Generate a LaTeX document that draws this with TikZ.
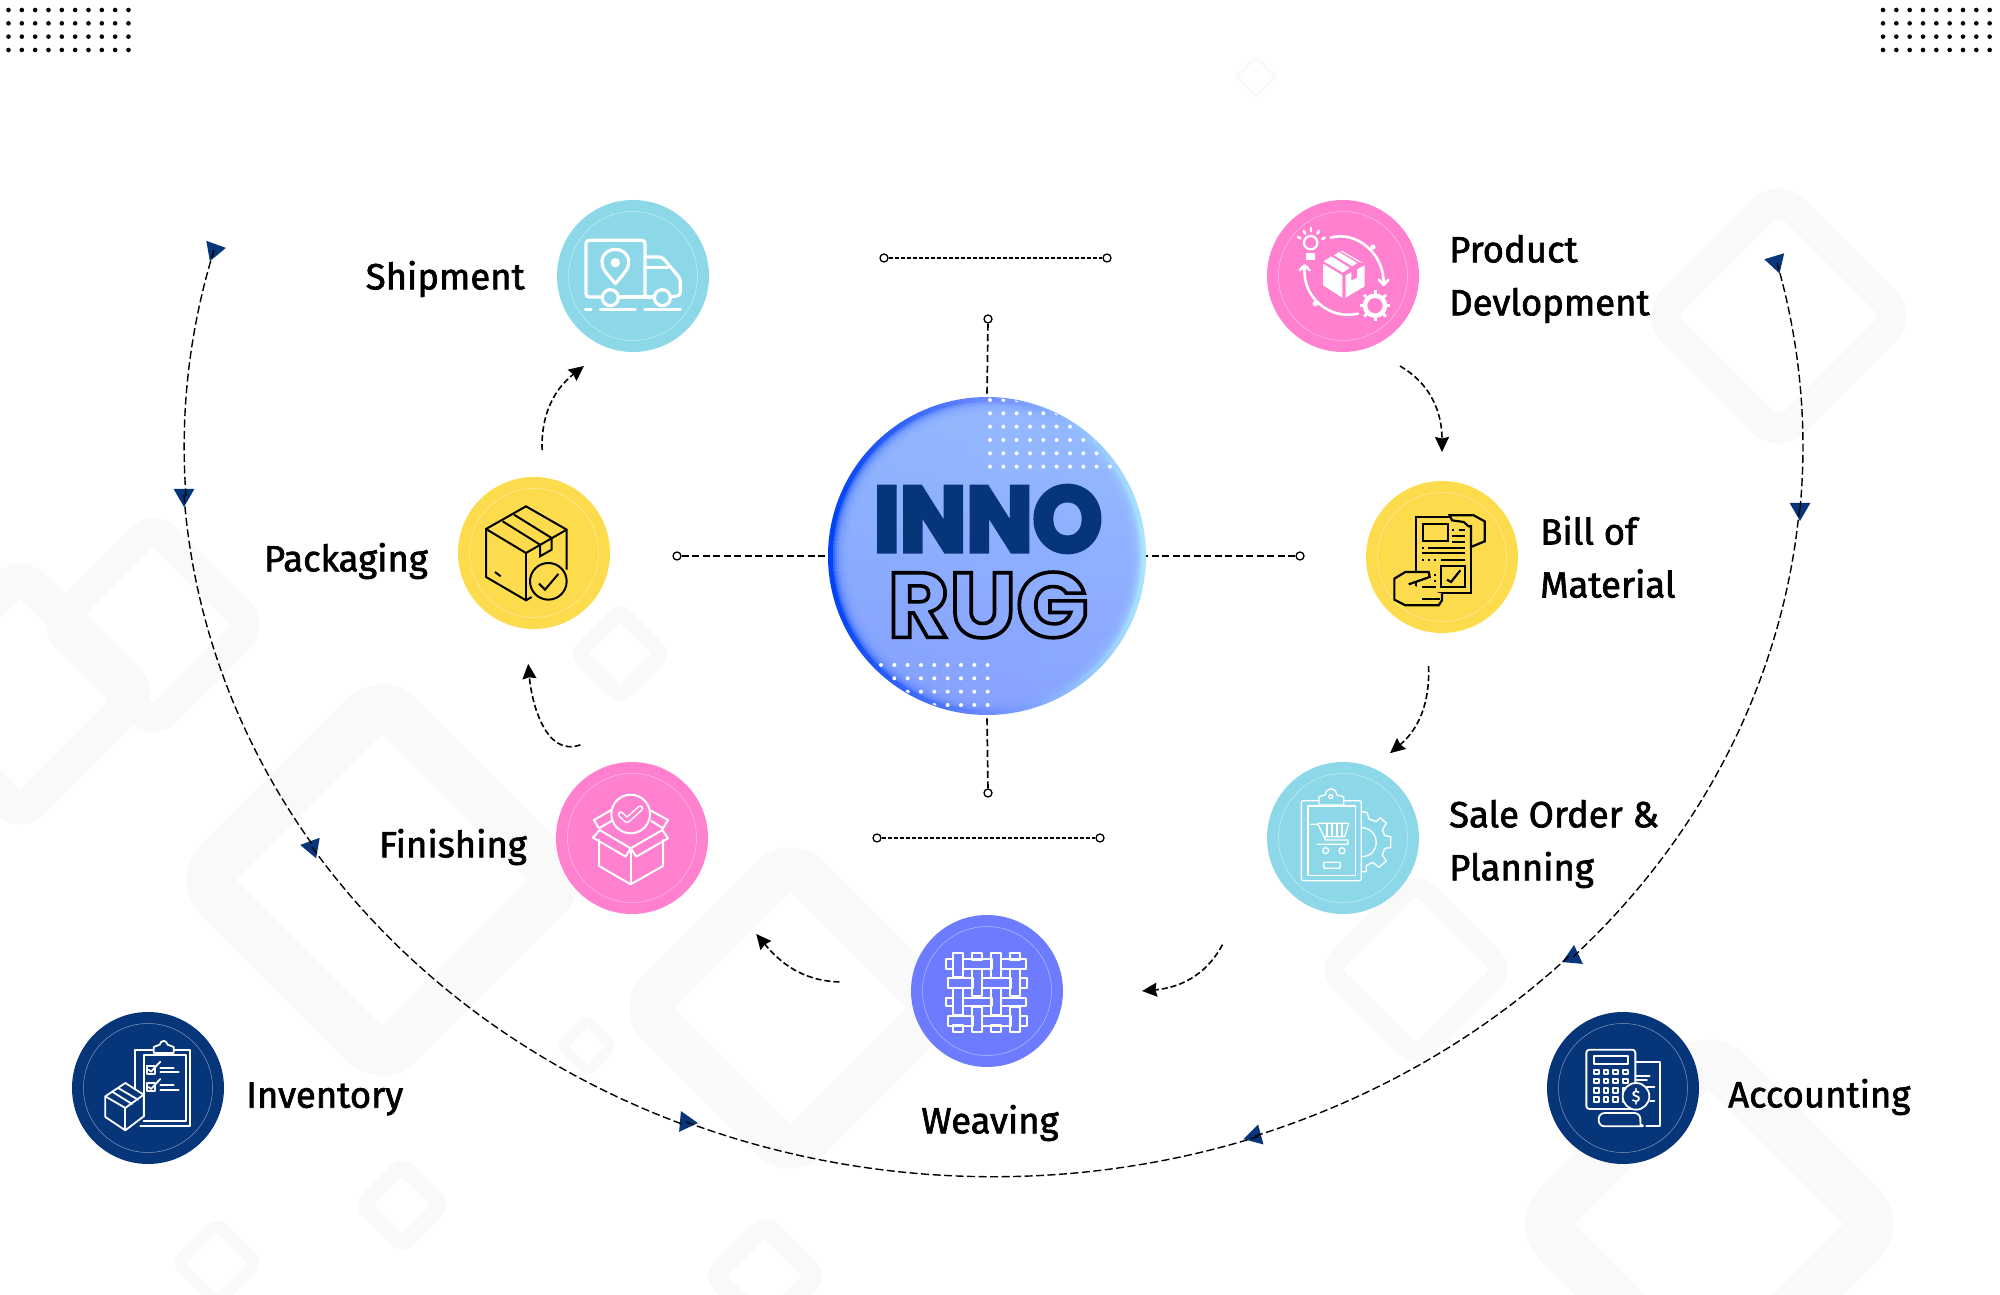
\documentclass[tikz,border=0pt]{standalone}
\usepackage{fontspec}
\usetikzlibrary{arrows.meta,shapes.geometric,calc}
\newfontfamily\labelfont{Fira Sans}[FakeBold=1.8]
\newfontfamily\hubfont{Poppins}
\newfontfamily\innofont{Poppins}[BoldFeatures={FakeBold=5}]
\definecolor{navy}{RGB}{6,53,122}
\definecolor{skyc}{RGB}{141,216,232}
\definecolor{pinkc}{RGB}{255,128,207}
\definecolor{yellowc}{RGB}{252,220,76}
\definecolor{violetc}{RGB}{109,124,255}
\definecolor{washc}{RGB}{249,249,250}
\definecolor{rimlow}{RGB}{0,65,245}
\definecolor{rimmid}{RGB}{110,140,255}
\definecolor{rimtop}{RGB}{170,228,255}
\definecolor{hubtop}{RGB}{150,187,255}
\definecolor{hublow}{RGB}{137,165,255}
\tikzset{
  stage/.style={circle,minimum size=152pt,inner sep=0pt,fill=#1},
  stagetext/.style={font=\labelfont\fontsize{36.5}{53}\selectfont,inner sep=0pt,text=black,align=left},
  ringline/.style={white,opacity=.5,line width=.5pt},
  crossline/.style={black,line width=1.7pt,dash pattern=on 7pt off 3.5pt},
  flatline/.style={black,line width=1.5pt,dash pattern=on 4pt off 2pt},
  enddot/.style={circle,draw=black,fill=white,line width=1.3pt,minimum size=8pt,inner sep=0pt},
  flowline/.style={black,line width=1.6pt,dash pattern=on 6pt off 3pt,-{Stealth[length=15pt,width=14pt,inset=1.5pt]}},
  arcline/.style={black,line width=1.4pt,dash pattern=on 8pt off 3.5pt},
  marker/.style={regular polygon,regular polygon sides=3,fill=navy,minimum size=24pt,inner sep=0pt},
  wash/.style={draw=washc},
  iconw/.style={white,line width=#1,line join=round,line cap=round},
  iconb/.style={black,line width=#1,line join=miter},
}
\begin{document}
\begin{tikzpicture}[x=1pt,y=1pt]
\useasboundingbox (0,0) rectangle (2000,1294);
% faint background
\foreach \cx/\cy/\hs/\tk/\rc in {1779/978/86/30/22,153/669/70/30/18,382/414/128/50/25,587/248/18/10/5,402/89/28/16/8,217/31/28/12/8,765/18/36/20/10,790/286/105/45/25,1416/325/62/20/15,1709/70/120/50/25,20/600/85/35/18,620/640/30/16/8,1256/1217/14/3/3}
  \draw[wash,line width=\tk pt,rounded corners=\rc pt,rotate around={45:(\cx,\cy)}] ({\cx-\hs},{\cy-\hs}) rectangle ({\cx+\hs},{\cy+\hs});
% corner dots
\foreach \i in {0,...,9}
  \foreach \j in {0,...,3}
    \fill[black] ({8.5+13.33*\i},{1284-13.33*\j}) circle (2.3);
\foreach \i in {0,...,8}
  \foreach \j in {0,...,3}
    \fill[black] ({1883+13.33*\i},{1284-13.33*\j}) circle (2.3);

% stages
\node[stage=skyc] (shipment) at (633,1018) {};
\node[stage=pinkc] (product) at (1343,1018) {};
\node[stage=yellowc] (packaging) at (534,741) {};
\node[stage=yellowc] (bill) at (1442,737) {};
\node[stage=pinkc] (finishing) at (632,456) {};
\node[stage=skyc] (sale) at (1343,456) {};
\node[stage=violetc] (weaving) at (987,303) {};
\node[stage=navy] (inventory) at (148,206) {};
\node[stage=navy] (accounting) at (1623,206) {};
\foreach \n in {shipment,product,packaging,bill,finishing,sale,weaving,inventory,accounting}
  \draw[ringline] (\n) circle (64.5);

% hub
\node[circle,minimum size=318pt,inner sep=0pt] (hub) at (987,738) {};
\shade[shading angle=40,left color=rimlow,right color=rimtop,middle color=rimmid] (hub) circle (159);
\foreach \r in {154,152,...,140}
  \shade[top color=hubtop,bottom color=hublow,opacity=.35] (hub) circle (\r);
\begin{scope}
  \clip (hub) circle (158);
  \foreach \i in {0,...,9}
    \foreach \j in {0,...,5}
      \fill[white] ({990+13.33*\i},{894-13.33*\j}) circle (2);
  \foreach \i in {0,...,8}
    \foreach \j in {0,...,3}
      \fill[white] ({881+13.33*\i},{629-13.33*\j}) circle (2);
\end{scope}
\node[inner sep=0pt,text=black,font=\hubfont\bfseries\fontsize{92}{92}\selectfont,xscale=1.03] (rug) at (988,689) {\special{pdf:code 1 Tr 3.6 w}RUG\special{pdf:code 0 Tr}};
\node[inner sep=0pt,text=navy,font=\innofont\bfseries\fontsize{92}{92}\selectfont,xscale=.96] (inno) at (988,775) {INNO};

% cross lines
\node[enddot] (crosstop) at (988,975) {};
\node[enddot] (crossleft) at (677,738) {};
\node[enddot] (crossright) at (1300,738) {};
\node[enddot] (crossbot) at (988,501) {};
\draw[crossline] (crosstop) -- (hub.90);
\draw[crossline] (crossleft) -- (hub.180);
\draw[crossline] (crossright) -- (hub.0);
\draw[crossline] (crossbot) -- (hub.270);
\node[enddot] (flata) at (884,1036) {};
\node[enddot] (flatb) at (1107,1036) {};
\node[enddot] (flatc) at (877,456) {};
\node[enddot] (flatd) at (1100,456) {};
\draw[flatline] (flata) -- (flatb);
\draw[flatline] (flatc) -- (flatd);

% inner flow
\draw[flowline] ($(packaging)+(85.5:103.3)$) to[out=92,in=218] ($(shipment)+(241.4:102.5)$);
\draw[flowline] ($(product)+(302.3:106.5)$) to[out=-30,in=90] ($(bill)+(90:105)$);
\draw[flowline] ($(bill)+(263:110)$) to[out=-88,in=40] ($(sale)+(61:97)$);
\draw[flowline] ($(sale)+(221.5:161)$) to[out=-118,in=5] ($(weaving)+(0:155)$);
\draw[flowline] ($(weaving)+(176.5:148)$) to[out=178,in=-50] ($(finishing)+(-37.7:157)$);
\draw[flowline] ($(finishing)+(119:106.5)$) to[out=200,in=-85] ($(packaging)+(267:111)$);

% outer arc
\node[marker,rotate=-80] (mlt) at (214,1044) {};
\node[marker,rotate=180] (mld) at (184,799) {};
\node[marker,rotate=80] (mll) at (312,447) {};
\node[marker,rotate=-95] (mlr) at (686,172) {};
\node[marker,rotate=105] (mrb) at (1255,158) {};
\node[marker,rotate=115] (mrl) at (1573,337) {};
\node[marker,rotate=180] (mrd) at (1800,785) {};
\node[marker,rotate=77] (mrt) at (1776,1032) {};
\foreach \from/\sa/\ea in {mlt/164.4/183.8,mld/183.8/213.1,mll/213.1/247.7,mlr/247.7/289.1,mrb/289.1/315.8,mrl/315.8/355.1,mrd/355.1/374.5}
  \draw[arcline] (\from.center) arc[start angle=\sa,end angle=\ea,x radius=810,y radius=732];

% labels
\node[stagetext,anchor=east] (shipmentlab) at (525,1015) {Shipment};
\node[stagetext,anchor=west] (productlab) at (1449,1015) {Product\\Devlopment};
\node[stagetext,anchor=east] (packaginglab) at (428,733) {Packaging};
\node[stagetext,anchor=west] (billlab) at (1540,737) {Bill of\\Material};
\node[stagetext,anchor=east] (finishinglab) at (527,447) {Finishing};
\node[stagetext,anchor=west] (salelab) at (1449,450) {Sale Order \&\\Planning};
\node[stagetext] (weavinglab) at (990,171) {Weaving};
\node[stagetext,anchor=west] (inventorylab) at (246,195) {Inventory};
\node[stagetext,anchor=west] (accountinglab) at (1728,197) {Accounting};

% truck
\begin{scope}[shift={(shipment.center)},x=.3333pt,y=-.3333pt,shift={(-278,-287)},iconw=3.2pt]
  \draw[rounded corners=3pt] (185,350) -- (137,350) -- (137,180) -- (314,180) -- (314,350);
  \draw (240,350) -- (340,350);
  \draw (225,310) .. controls (195,275) and (185,265) .. (185,245) .. controls (185,220) and (205,207) .. (225,207) .. controls (245,207) and (265,220) .. (265,245) .. controls (265,265) and (255,275) .. (225,310) -- cycle;
  \fill[white] (225,247) circle (14);
  \draw[rounded corners=3pt] (318,230) -- (365,230) -- (420,295) -- (420,345) -- (392,350);
  \draw (318,262) -- (382,262);
  \draw (210,352) circle (24);
  \draw (366,352) circle (24);
  \draw (135,388) -- (152,388);
  \draw (180,388) -- (285,388);
  \draw (313,388) -- (420,388);
\end{scope}
% product cycle
\begin{scope}[shift={(product.center)},x=.3333pt,y=-.3333pt,shift={(-280,-287)},iconw=2.6pt]
  \fill[white] (220,250) -- (278,285) -- (278,352) -- (220,315) -- cycle;
  \fill[white] (288,285) -- (345,255) -- (345,318) -- (288,352) -- cycle;
  \fill[white] (222,243) -- (245,228) -- (300,262) -- (280,277) -- cycle;
  \fill[white] (253,225) -- (268,215) -- (322,248) -- (308,258) -- cycle;
  \fill[white] (278,212) -- (340,248) -- (328,245) -- (272,212) -- cycle;
  \fill[pinkc] (305,272) -- (322,262) -- (322,292) -- (305,300) -- cycle;
  \draw (243,172) .. controls (320,150) and (405,220) .. (402,312);
  \draw (388,298) -- (402,314) -- (416,298);
  \draw (325,400) .. controls (240,420) and (155,350) .. (165,258);
  \draw (150,270) -- (165,255) -- (180,270);
  \fill[white] (370,200) circle (8);
  \fill[white] (197,370) circle (8);
  \draw[line width=2.2pt] (183,187) circle (20);
  \fill[white] (170,218) rectangle (197,240);
  \foreach \xa/\ya/\xb/\yb in {145/170/152/174,162/152/166/160,184/143/184/153,208/152/203/160,225/172/218/176}
    \draw (\xa,\ya) -- (\xb,\yb);
  \fill[pinkc] (376,376) circle (48);
  \draw[line width=4.5pt] (376,376) circle (30);
  \foreach \a in {0,45,...,315}
    \draw[line width=3pt,line cap=butt] ($(376,376)+(\a:33)$) -- ($(376,376)+(\a:46)$);
\end{scope}
% package
\begin{scope}[shift={(packaging.center)},x=.3333pt,y=-.3333pt,shift={(-282,-280)},iconb=2pt]
  \draw (380,330) -- (380,210) -- (258,140) -- (138,208) -- (138,352) -- (258,422) -- (275,412);
  \draw (138,208) -- (258,280) -- (380,210);
  \draw (258,280) -- (258,422);
  \draw (188,185) -- (300,255) -- (300,290) -- (335,270) -- (335,235) -- (222,165);
  \draw (165,337) -- (182,350);
  \draw[fill=yellowc] (325,365) circle (55);
  \draw (297,372) -- (315,390) -- (355,343);
\end{scope}
% bill
\begin{scope}[shift={(bill.center)},x=.3333pt,y=-.3333pt,shift={(-275,-275)},iconb=2.2pt]
  \draw (198,155) rectangle (362,383);
  \draw (218,177) rectangle (293,227);
  \foreach \xa/\ya/\xb in {305/195/312,325/195/345,305/212/345,305/230/345,215/247/222,232/247/345,215/264/345,215/284/222,232/284/240,250/284/258,272/284/345,250/330/258,250/347/258,215/365/258}
    \draw (\xa,\ya) -- (\xb,\ya);
  \draw (272,302) rectangle (345,365);
  \draw (290,343) -- (302,350) -- (330,315);
  \draw[fill=yellowc] (362,245) -- (403,228) -- (403,168) -- (370,150) -- (298,150) -- (305,165) -- (340,170) -- (355,183) -- (362,183) -- cycle;
  \draw[fill=yellowc] (275,385) -- (275,405) -- (265,420) -- (165,420) -- (132,403) -- (132,340) -- (165,320) -- (235,320) -- (238,335) -- (175,357);
  \draw (215,400) -- (270,400);
\end{scope}
% open box
\begin{scope}[shift={(finishing.center)},x=.3333pt,y=-.3333pt,shift={(-277,-279)},iconw=2pt]
  \draw (178,285) -- (178,363) -- (273,418) -- (370,363) -- (370,285);
  \draw (273,418) -- (273,320);
  \draw (160,278) -- (258,335) -- (273,310) -- (290,335) -- (385,280) -- (368,255) -- (273,310) -- (180,255) -- cycle;
  \draw (215,195) -- (163,225) -- (178,250) -- (215,228);
  \draw (330,195) -- (385,225) -- (370,250) -- (335,228);
  \draw (273,207) circle (58);
  \draw[line width=6pt] (243,208) -- (262,226) -- (302,190);
  \draw[pinkc,line width=3pt] (243,208) -- (262,226) -- (302,190);
\end{scope}
% clipboard with cart
\begin{scope}[shift={(sale.center)},x=.3333pt,y=-.3333pt,shift={(-280,-279)},iconw=1.3pt]
  \draw[rounded corners=2pt] (155,167) rectangle (335,407);
  \draw (175,183) rectangle (318,392);
  \draw[fill=skyc] (208,180) -- (208,155) -- (226,150) .. controls (230,125) and (258,125) .. (262,150) -- (282,155) -- (282,180) -- cycle;
  \draw (243,155) circle (6);
  \draw (183,238) -- (205,238) -- (228,285) -- (295,285) -- (295,298) -- (203,298);
  \draw (205,235) -- (297,235) -- (285,275) -- (222,275);
  \foreach \x in {232,247,262,277}
    \draw (\x,237) -- (\x,275);
  \draw (228,317) circle (9);
  \draw (277,317) circle (9);
  \draw[rounded corners=1pt] (222,352) rectangle (272,370);
  \draw (335,200) -- (352,202) -- (358,222) -- (380,230) -- (392,218) -- (410,235) -- (398,255) -- (405,272) -- (423,275) -- (423,308) -- (405,310) -- (398,330) -- (410,348) -- (387,367) -- (370,352) -- (350,362) -- (350,380) -- (335,380);
  \draw (335,248) .. controls (395,250) and (395,335) .. (335,335);
\end{scope}
% weave
\begin{scope}[shift={(weaving.center)},x=.3333pt,y=-.3333pt,shift={(-292,-272)},iconw=1.9pt]
  \foreach \xa/\ya/\xb/\yb in {222/180/303/203,337/180/407/203,177/237/247/260,280/237/360/260,222/295/303/315,337/295/407/315,177/350/247/373,280/350/360/373,193/160/217/228,193/265/217/340,250/208/273/285,250/322/273/392,308/160/330/230,308/265/330/340,365/208/388/285,365/322/388/392,250/160/273/175,365/160/388/175,193/378/217/392,308/378/330/392,172/180/187/203,172/295/187/315,393/237/410/260,393/350/410/373}
    \draw ({\xa-3},{\ya-3}) rectangle ({\xb+3},{\yb+3});
\end{scope}
% stock list
\begin{scope}[shift={(inventory.center)},x=.3333pt,y=-.3333pt,shift={(-263,-265)},iconw=1.8pt]
  \draw (225,270) -- (225,150) -- (280,150) (340,150) -- (390,150) -- (390,378) -- (240,378);
  \draw (250,350) -- (250,165) -- (378,165) -- (378,365) -- (250,365);
  \draw (280,160) -- (280,142) -- (298,135) .. controls (302,120) and (318,120) .. (322,135) -- (340,142) -- (340,160) -- cycle;
  \foreach \y in {210,262} {
    \draw (259,\y-12) rectangle (283,\y+12);
    \draw (265,\y) -- (272,\y+6) -- (300,\y-24);
    \draw (300,\y-6) -- (340,\y-6);
    \draw (300,\y+8) -- (355,\y+8);
  }
  \draw[fill=navy] (135,290) -- (195,250) -- (250,285) -- (250,350) -- (195,392) -- (135,352) -- cycle;
  \draw (135,290) -- (195,325) -- (250,285);
  \draw (195,325) -- (195,392);
  \draw (157,277) -- (215,313) (175,266) -- (233,300);
\end{scope}
% calculator
\begin{scope}[shift={(accounting.center)},x=.3333pt,y=-.3333pt,shift={(-248,-265)},iconw=1.8pt]
  \draw (285,187) -- (360,187) -- (360,380) -- (318,380);
  \draw[rounded corners=6pt] (230,340) -- (175,340) -- (175,380) -- (318,380) .. controls (300,375) and (300,350) .. (300,340) -- (230,340);
  \draw[fill=navy,rounded corners=3pt] (138,150) rectangle (285,328);
  \draw (160,170) rectangle (262,193);
  \foreach \x in {168,197,226,255}
    \foreach \y in {217,244,272,300}
      \draw ({\x-7},{\y-7}) rectangle ({\x+7},{\y+7});
  \draw (285,228) -- (328,228) (285,242) -- (320,242) (320,262) -- (342,262) (330,305) -- (342,305);
  \draw[fill=navy] (287,290) circle (40);
  \node[inner sep=0pt,text=white,font=\labelfont\fontsize{16}{16}\selectfont] (coin) at (287,290) {\$};
\end{scope}
\end{tikzpicture}
\end{document}
